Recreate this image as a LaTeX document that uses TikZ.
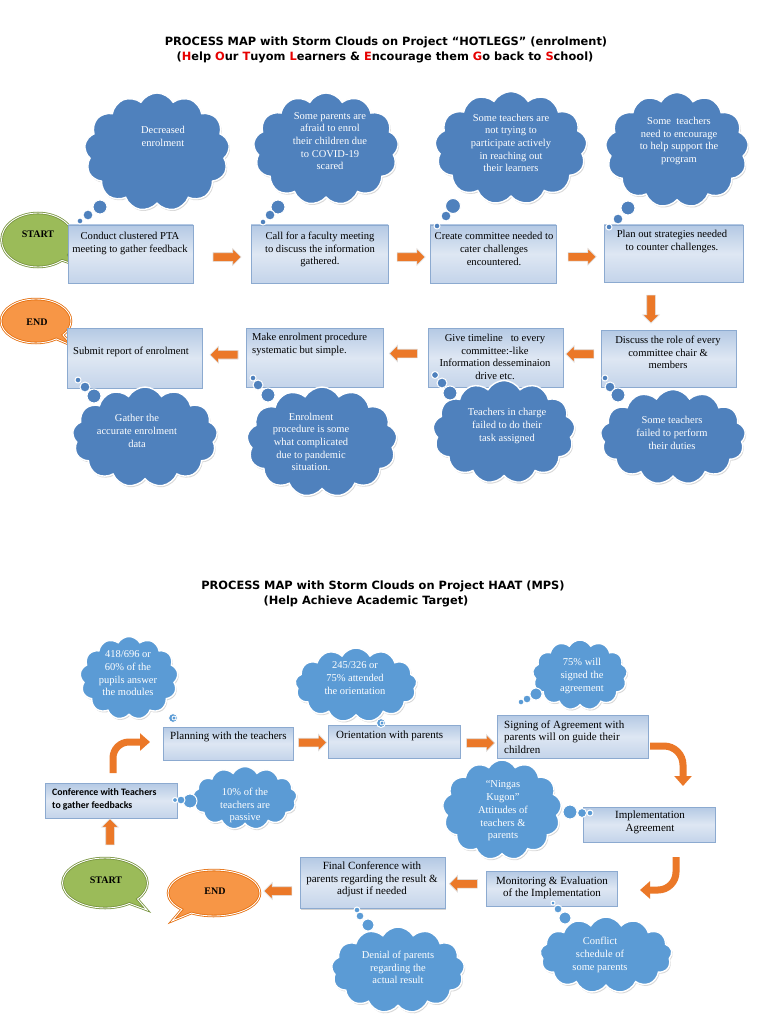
\documentclass[tikz,border=0pt]{standalone}
\usepackage{fontspec}
\setmainfont{Liberation Serif}
\newfontfamily\titlefont{DejaVu Sans}
\newfontfamily\calfont{Carlito}
\usetikzlibrary{shapes.symbols,shapes.callouts,shapes.arrows,shadows,arrows.meta,calc}
\definecolor{cloudA}{RGB}{79,129,189}
\definecolor{cloudB}{RGB}{91,155,213}
\definecolor{greenF}{RGB}{155,187,89}
\definecolor{greenD}{RGB}{118,146,60}
\definecolor{endF}{RGB}{247,150,70}
\definecolor{endD}{RGB}{228,108,10}
\definecolor{arrC}{RGB}{235,120,40}
\definecolor{boxT}{RGB}{180,201,228}
\definecolor{boxM}{RGB}{222,231,243}
\definecolor{boxB}{RGB}{196,212,234}
\definecolor{boxD}{RGB}{140,170,208}
\definecolor{redT}{RGB}{230,0,0}
\tikzset{
  box/.style={rectangle, draw=boxD, line width=0.6pt, top color=boxT, bottom color=boxB, middle color=boxM,
    drop shadow={opacity=0.35, shadow xshift=1.2pt, shadow yshift=-1.2pt}, inner sep=0pt},
  btext/.style={font=\fontsize{10.6}{12.7}\selectfont, align=center, inner sep=0pt, text=black},
  btextb/.style={font=\fontsize{11}{12.3}\selectfont, align=center, inner sep=0pt, text=black},
  ctext/.style={font=\fontsize{10.5}{12.7}\selectfont, align=center, inner sep=0pt, text=white},
  cloudbase/.style={cloud, cloud puffs=13, cloud puff arc=120, cloud ignores aspect, draw=white, line width=1.4pt,
    drop shadow={opacity=0.3, shadow xshift=1pt, shadow yshift=-1.5pt}, inner sep=0pt},
  cloudT/.style={cloudbase, fill=cloudA},
  cloudL/.style={cloudbase, fill=cloudB},
  bubT/.style={fill=cloudA, draw=white, line width=1pt},
  bubL/.style={fill=cloudB, draw=white, line width=1pt},
  barr/.style={single arrow, fill=arrC, draw=white!75!gray, line width=0.6pt, inner sep=4pt,
    single arrow head extend=4pt, minimum height=28pt},
  bent/.style={draw=arrC, line width=7pt, -{Triangle[width=17pt,length=10pt]}},
  startc/.style={ellipse callout, fill=greenF, draw=greenD, double=white, double distance=0.9pt, line width=0.8pt, inner sep=0pt},
  endc/.style={ellipse callout, fill=endF, draw=endD, double=white, double distance=0.9pt, line width=0.8pt, inner sep=0pt},
  cotext/.style={font=\bfseries\fontsize{10}{12}\selectfont, inner sep=0pt, text=black},
  ttl/.style={font=\titlefont\bfseries\fontsize{11.4}{14}\selectfont, inner sep=0pt}
}
\begin{document}
\begin{tikzpicture}[x=1pt,y=1pt]
\useasboundingbox[fill=white] (0,0) rectangle (768,-1024);

% ---------- Titles ----------
\node[ttl] (t1) at (386,-42) {PROCESS MAP with Storm Clouds on Project “HOTLEGS” (enrolment)};
\node[ttl] (t2) at (385,-57)
  {(\textcolor{redT}{H}elp \textcolor{redT}{O}ur \textcolor{redT}{T}uyom \textcolor{redT}{L}earners \& \textcolor{redT}{E}ncourage them \textcolor{redT}{G}o back to \textcolor{redT}{S}chool)};
\node[ttl] (t3) at (383,-586) {PROCESS MAP with Storm Clouds on Project HAAT (MPS)};
\node[ttl] (t4) at (366,-601) {(Help Achieve Academic Target)};

% ---------- Top section: callouts ----------
\node[startc, minimum width=73pt, minimum height=54pt, callout absolute pointer={(78,-266)}] (st1) at (38,-240) {};
\node[cotext] (st1t) at (38,-234) {START};
\node[endc, minimum width=70pt, minimum height=44pt, callout absolute pointer={(73,-346)}] (en1) at (36,-321) {};
\node[cotext] (en1t) at (37,-322) {END};

% ---------- Top section: boxes ----------
\node[box, minimum width=125pt, minimum height=58pt] (b1) at (130.5,-254) {};
\node[box, minimum width=137pt, minimum height=58pt] (b2) at (319.5,-254) {};
\node[box, minimum width=126pt, minimum height=58pt] (b3) at (493,-254) {};
\node[box, minimum width=139pt, minimum height=57pt] (b4) at (673.5,-253.5) {};
\node[box, minimum width=135pt, minimum height=60pt] (s1) at (134.5,-358) {};
\node[box, minimum width=137pt, minimum height=59pt] (s2) at (314.5,-357.5) {};
\node[box, minimum width=135pt, minimum height=59pt] (s3) at (495.5,-357.5) {};
\node[box, minimum width=135pt, minimum height=57pt] (s4) at (668.5,-358.5) {};

\node[btext] (b1t) at (130,-243.5) {Conduct clustered PTA\\meeting to gather feedback};
\node[btext] (b2t) at (320,-249.5) {Call for a faculty meeting\\to discuss the information\\gathered.};
\node[btext] (b3t) at (494,-249) {Create committee needed to\\cater challenges\\encountered.};
\node[btext] (b4t) at (672,-241.5) {Plan out strategies needed\\to counter challenges.};
\node[btext, anchor=west] (s1t) at (73,-352) {Submit report of enrolment};
\node[btext, anchor=west, align=left] (s2t) at (252,-344.5) {Make enrolment procedure\\systematic but simple.};
\node[btext] (s3t) at (495,-357) {Give timeline~~ to every\\committee:-like\\Information desseminaion\\drive etc.};
\node[btext] (s4t) at (668,-352.5) {Discuss the role of every\\committee chair \&\\members};

% block arrows top section
\node[barr] (a1) at ($(b1.east)!0.55!(b2.west)+(0,-3)$) {};
\node[barr] (a2) at ($(b2.east)!0.5!(b3.west)+(0,-3)$) {};
\node[barr] (a3) at ($(b3.east)!0.5!(b4.west)+(0,-3)$) {};
\node[barr, shape border rotate=270] (a4) at ($(b4.south)!0.5!(s4.north)+(-20,-1)$) {};
\node[barr, shape border rotate=180] (a5) at ($(s4.west)!0.5!(s3.east)+(0,4)$) {};
\node[barr, shape border rotate=180] (a6) at ($(s3.west)!0.5!(s2.east)+(0,4)$) {};
\node[barr, shape border rotate=180] (a7) at ($(s2.west)!0.45!(s1.east)+(0,3)$) {};

% ---------- Top section: clouds ----------
\node[cloudT, minimum width=145pt, minimum height=118pt] (c1) at (157,-152) {};
\node[cloudT, minimum width=145pt, minimum height=112pt] (c2) at (326,-149) {};
\node[cloudT, minimum width=152pt, minimum height=113pt] (c3) at (511,-148) {};
\node[cloudT, minimum width=143pt, minimum height=115pt] (c4) at (677,-150) {};
\node[cloudT, minimum width=145pt, minimum height=100pt] (c5) at (145,-437) {};
\node[cloudT, minimum width=150pt, minimum height=110pt] (c6) at (322,-442) {};
\node[cloudT, minimum width=142pt, minimum height=103pt] (c7) at (504,-432) {};
\node[cloudT, minimum width=145pt, minimum height=95pt] (c8) at (673,-437) {};

\draw[bubT] (100,-207) circle (7pt); \draw[bubT] (88,-215) circle (5pt); \draw[bubT] (80,-221) circle (3pt);
\draw[bubT] (278,-207) circle (7pt); \draw[bubT] (270,-215) circle (5pt); \draw[bubT] (263,-222) circle (3pt);
\draw[bubT] (453,-206) circle (7.5pt); \draw[bubT] (446,-216) circle (5pt); \draw[bubT] (437,-226) circle (3pt);
\draw[bubT] (628,-208) circle (7pt); \draw[bubT] (618,-219) circle (5pt); \draw[bubT] (609,-227) circle (3pt);
\draw[bubT] (78,-380) circle (3pt); \draw[bubT] (85,-387) circle (5pt); \draw[bubT] (94,-396) circle (7pt);
\draw[bubT] (253,-378) circle (3pt); \draw[bubT] (258,-385) circle (5pt); \draw[bubT] (268,-395) circle (7pt);
\draw[bubT] (435,-375) circle (3.5pt); \draw[bubT] (442,-383) circle (5pt); \draw[bubT] (450,-393) circle (7pt);
\draw[bubT] (605,-378) circle (3pt); \draw[bubT] (610,-387) circle (5pt); \draw[bubT] (618,-395) circle (7pt);

\node[ctext] (c1t) at (163,-136.5) {Decreased\\enrolment};
\node[ctext] (c2t) at (330,-141) {Some parents are\\afraid to enrol\\their children due\\to COVID-19\\scared};
\node[ctext] (c3t) at (511,-143) {Some teachers are\\not trying to\\participate actively\\in reaching out\\their learners};
\node[ctext] (c4t) at (679,-141) {Some~ teachers\\need to encourage\\to help support the\\program};
\node[ctext] (c5t) at (137,-431) {Gather the\\accurate enrolment\\data};
\node[ctext] (c6t) at (311,-442) {Enrolment\\procedure is some\\what complicated\\due to pandemic\\situation.};
\node[ctext] (c7t) at (507,-426) {Teachers in charge\\failed to do their\\task assigned};
\node[ctext] (c8t) at (672,-433) {Some teachers\\failed to perform\\their duties};

% ---------- Bottom section: callouts ----------
\node[startc, minimum width=85pt, minimum height=50pt, callout absolute pointer={(147,-910)}] (st2) at (105,-883) {};
\node[cotext] (st2t) at (106,-880) {START};
\node[endc, minimum width=92pt, minimum height=46pt, callout absolute pointer={(172,-921)}] (en2) at (214,-893) {};
\node[cotext] (en2t) at (215,-891) {END};

% ---------- Bottom section: boxes ----------
\node[box, minimum width=130pt, minimum height=33pt] (P) at (228,-743.5) {};
\node[box, minimum width=132pt, minimum height=33pt] (O) at (394,-741.5) {};
\node[box, minimum width=151pt, minimum height=43pt] (S) at (572.5,-736.5) {};
\node[box, minimum width=132pt, minimum height=35pt] (I) at (649,-824.5) {};
\node[box, minimum width=131pt, minimum height=35pt] (M) at (551.5,-888.5) {};
\node[box, minimum width=145pt, minimum height=51pt] (F) at (372.5,-883) {};
\node[box, minimum width=132pt, minimum height=35pt] (C) at (111,-800.5) {};

\node[btextb, anchor=west] (Pt) at (170,-737) {Planning with the teachers};
\node[btextb, anchor=west] (Ot) at (336,-736) {Orientation with parents};
\node[btextb, anchor=west, align=left] (St) at (504,-737) {Signing of Agreement with\\parents will on guide their\\children};
\node[btextb] (It) at (650,-822.5) {Implementation\\Agreement};
\node[btextb] (Mt) at (552,-887.5) {Monitoring \& Evaluation\\of the Implementation};
\node[btextb] (Ft) at (372,-879.5) {Final Conference with\\parents regarding the result \&\\adjust if needed};
\node[font=\calfont\bfseries\fontsize{9.8}{12.8}\selectfont, anchor=west, align=left, inner sep=0pt] (Ct) at (52,-799.5)
  {Conference with Teachers\\to gather feedbacks};

% block arrows bottom section
\node[barr] (r1) at ($(P.east)!0.5!(O.west)$) {};
\node[barr] (r2) at ($(O.east)!0.5!(S.west)+(0,-4)$) {};
\node[barr, shape border rotate=180] (l1) at ($(M.west)!0.5!(F.east)+(0,2)$) {};
\node[barr, shape border rotate=180] (l2) at ($(F.west)!0.5!(en2.east)+(0,-3)$) {};
\node[barr, shape border rotate=90, minimum height=26pt] (u1) at ($(st2.north)!0.5!(C.south)+(2,4)$) {};

% bent arrows
\coordinate (ba1s) at (113,-773);
\coordinate (ba1e) at (150,-742);
\draw[bent] (ba1s) -- (113,-758) to[out=90,in=180] (129,-742) -- (ba1e);
\coordinate (ba2s) at (650,-746);
\coordinate (ba2e) at (683,-786);
\draw[bent] (ba2s) -- (664,-746) to[out=0,in=90] (683,-765) -- (ba2e);
\coordinate (ba3s) at (676,-857);
\coordinate (ba3e) at (640,-890);
\draw[bent] (ba3s) -- (676,-872) to[out=270,in=0] (658,-890) -- (ba3e);

% ---------- Bottom section: clouds ----------
\node[cloudL, minimum width=98pt, minimum height=83pt] (d1) at (129,-678) {};
\node[cloudL, minimum width=122pt, minimum height=74pt] (d2) at (356,-685) {};
\node[cloudL, minimum width=95pt, minimum height=70pt] (d3) at (580,-675) {};
\node[cloudL, minimum width=104pt, minimum height=63pt] (d4) at (245,-798) {};
\node[cloudL, minimum width=119pt, minimum height=100pt] (d5) at (502,-810) {};
\node[cloudL, minimum width=132pt, minimum height=76pt] (d6) at (606,-955) {};
\node[cloudL, minimum width=133pt, minimum height=86pt] (d7) at (398,-970) {};

\draw[bubL] (173,-718) circle (4.5pt); \draw[white, line width=0.8pt] (174,-718) circle (2pt);
\draw[bubL] (381,-723) circle (4.5pt); \draw[white, line width=0.8pt] (382,-723) circle (2pt);
\draw[bubL] (536,-694) circle (6pt); \draw[bubL] (527,-699) circle (4pt); \draw[bubL] (521,-702) circle (3pt);
\draw[bubL] (190,-801) circle (7pt); \draw[bubL] (181,-800) circle (4pt); \draw[bubL] (175,-800) circle (2.5pt);
\draw[bubL] (570,-812) circle (7pt); \draw[bubL] (582,-813) circle (4.5pt); \draw[bubL] (590,-813) circle (3pt);
\draw[bubL] (553,-903) circle (2pt); \draw[bubL] (558,-909) circle (4pt); \draw[bubL] (565,-918) circle (6pt);
\draw[bubL] (357,-910) circle (3pt); \draw[bubL] (360,-916) circle (4pt); \draw[bubL] (368,-925) circle (6pt);

\node[ctext] (d1t) at (128,-673.5) {418/696 or\\60\% of the\\pupils answer\\the modules};
\node[ctext] (d2t) at (355,-678) {245/326 or\\75\% attended\\the orientation};
\node[ctext] (d3t) at (582,-676) {75\% will\\signed the\\agreement};
\node[ctext] (d4t) at (245,-805.5) {10\% of the\\teachers are\\passive};
\node[ctext] (d5t) at (503,-811) {“Ningas\\Kugon”\\Attitudes of\\teachers \&\\parents};
\node[ctext] (d6t) at (600,-955) {Conflict\\schedule of\\some parents};
\node[ctext] (d7t) at (398,-967.5) {Denial of parents\\regarding the\\actual result};

\end{tikzpicture}
\end{document}
